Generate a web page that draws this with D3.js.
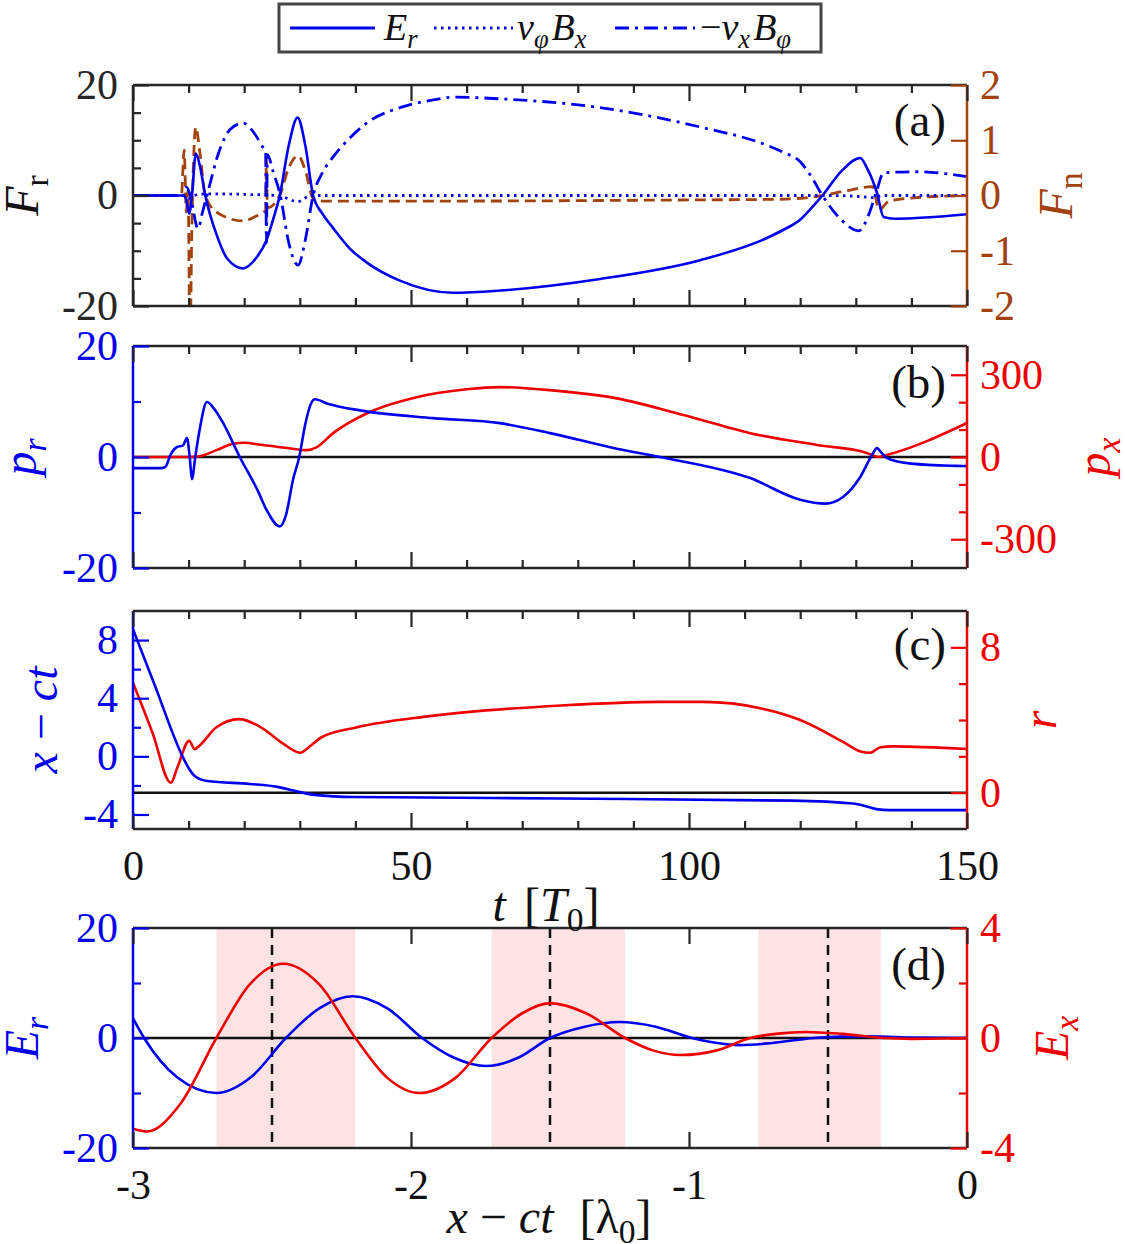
<!DOCTYPE html>
<html>
<head>
<meta charset="UTF-8">
<script src="https://d3js.org/d3.v7.min.js"></script>
</head>
<body style="margin:0">
<svg width="1125" height="1244"></svg>
<script>
// ---- panel (a): radial force components (left) and F_n (right)
const tEr = [0, 9, 9.5, 10.1, 10.6, 11.3, 12, 13, 15, 17, 19.8, 22, 24, 25.3, 26.4, 28, 29.6, 31, 32.4, 34, 36, 39, 42, 48, 57.6, 66, 84, 102, 114, 117, 120, 122, 124, 127.5, 130.8, 132, 133.8, 135, 137, 150];
const Er   = [0, 0, -0.5, -3.3, 0, 7.6, 5.5, 0, -7, -11.5, -13.2, -11.5, -8.1, -4, 0, 9, 14.1, 9, 0, -3.2, -5.9, -9.6, -12.1, -15.4, -17.6, -17.2, -15.1, -11.7, -7.7, -6.2, -4.4, -2.3, 0, 4.5, 6.8, 5, 0.5, -3.9, -4.2, -3.4];
const tVB = [0, 9, 10.2, 11, 13, 20, 26, 29.7, 32, 125, 131, 133, 135, 150];
const vphiBx = [0, 0, -0.5, 0, 0.3, 0.2, 0, -1.1, 0, 0, -0.2, -0.4, 0, 0];
const tVxB = [0, 9, 9.6, 10.3, 11.7, 12.5, 13.3, 15.5, 17.5, 19.8, 22, 23.7, 23.85, 24, 24.15, 25.3, 26.5, 28, 29.7, 31, 32.4, 34, 36, 39, 42, 48, 54, 57.6, 66, 84, 102, 114, 117, 120, 122, 124, 127.5, 130.5, 132.5, 133.8, 135, 141, 150];
const vxBphi = [0, 0, 1.5, 0, -6, -3, 0, 8, 12, 13.1, 11, 8.2, 8.0, -8.6, 7.4, 4, 0, -8.5, -12.6, -8, 0, 4, 7, 10.4, 13.1, 15.9, 17.3, 17.8, 17.5, 15.9, 12.4, 9.1, 7.8, 6.1, 3.4, 0, -4.5, -6.4, -3, 1, 4.1, 4.3, 3.4];
const tFn = [0, 8.7, 9.2, 9.6, 9.9, 10.25, 10.6, 11.3, 12, 13, 15, 19.8, 22, 23.85, 24, 24.15, 26.4, 28, 29.7, 31, 32.4, 34, 60, 100, 115, 120, 124, 128, 133, 134.2, 136, 142, 150];
const Fn  = [0, 0, 0.82, -0.3, 0.1, -2.6, -0.5, 1.24, 0.8, 0, -0.3, -0.46, -0.38, -0.27, 0.67, -0.22, 0, 0.5, 0.72, 0.45, -0.05, -0.1, -0.1, -0.08, -0.07, -0.05, 0, 0.08, 0.16, -0.26, -0.1, -0.03, 0];

// ---- panel (b): p_r (left) and p_x (right)
const tPr = [0, 5, 5.8, 6.8, 7.9, 9, 9.7, 10.2, 10.6, 11.2, 12, 13.3, 14.5, 16, 19.2, 22.5, 24, 26.4, 27.5, 28.8, 29.9, 31, 32, 32.7, 35, 40.8, 54, 66, 75, 87, 94.8, 111, 120, 124.5, 127.7, 130.8, 133, 133.8, 134.6, 135.6, 140, 148, 150];
const pr  = [-2, -2, -1.8, 0.5, 1.8, 2.1, 3.4, 0, -4, 0, 5, 9.9, 8.8, 6.5, 0, -6.2, -9.5, -12.5, -10.5, -4, 0, 6, 9.6, 10.4, 9.6, 8.4, 7, 6.1, 4.3, 1.5, 0, -3.8, -7.7, -8.4, -7.2, -3.6, 0.5, 1.6, 0.8, -0.2, -1.2, -1.6, -1.65];
const tPx = [0, 10, 12, 15, 18, 20, 23, 28, 31.3, 33, 36, 42.6, 51, 60, 66, 75, 87, 99, 111, 123, 132, 134, 136, 150];
const px  = [0, 0, 3, 25, 48, 52, 45, 32, 25, 35, 87, 164, 218, 247, 255, 244, 214, 153, 87, 44, 15, 0, 10, 124];

// ---- panel (c): x - ct (left) and r (right)
const tXct = [0, 4, 8.9, 10, 11.1, 13.4, 21, 26, 29.4, 32.6, 40, 77, 118.7, 129.5, 132, 134, 136, 150];
const xct  = [8.75, 4.8, 0, -0.8, -1.35, -1.7, -1.9, -2.1, -2.4, -2.65, -2.8, -2.9, -3.05, -3.25, -3.45, -3.65, -3.7, -3.7];
const tR = [0, 3.5, 6.8, 8, 10.1, 11.1, 12, 15, 19.1, 23, 27, 30, 32, 33.9, 40.3, 53, 77, 94.8, 102.6, 112.8, 120, 127.7, 131, 132.6, 134.4, 136.7, 150];
const rr = [6.05, 3.3, 0.55, 1.4, 2.85, 2.4, 2.6, 3.6, 4.05, 3.6, 2.7, 2.2, 2.6, 3.05, 3.6, 4.2, 4.8, 5.0, 5.0, 4.65, 4.0, 2.8, 2.25, 2.2, 2.5, 2.55, 2.4];

// ---- panel (d): fields along x - ct
const xiEr = [-3, -2.96, -2.84, -2.70, -2.575, -2.45, -2.33, -2.21, -2.085, -1.96, -1.845, -1.73, -1.615, -1.5, -1.375, -1.25, -1.12, -0.99, -0.9, -0.82, -0.7, -0.55, -0.45, -0.35, -0.2, 0];
const dEr  = [3.6, 0, -7.2, -10, -7.1, 0, 5.4, 7.6, 5.4, 0, -3.6, -5.1, -3.6, 0, 2.05, 2.9, 2.05, 0, -0.9, -1.3, -0.9, 0, 0.25, 0.3, 0.1, 0];
const xiEx = [-3, -2.95, -2.83, -2.70, -2.58, -2.46, -2.33, -2.2, -2.085, -1.97, -1.84, -1.71, -1.6, -1.5, -1.37, -1.23, -1.13, -1.03, -0.9, -0.78, -0.68, -0.58, -0.45, -0.3, -0.2, 0];
const dEx  = [-3.3, -3.4, -2.4, 0, 1.95, 2.7, 1.95, 0, -1.45, -2.0, -1.45, 0, 0.9, 1.27, 0.9, 0, -0.45, -0.62, -0.45, 0, 0.16, 0.22, 0.15, 0, -0.03, 0];
const bands = [[-2.7, -2.2], [-1.71, -1.23], [-0.75, -0.31]];
const peaks = [-2.5, -1.5, -0.5];

const BLUE = "#0000ee", RED = "#ee0000", BROWN = "#a2420e", INK = "#262626";
const FONT = '"Liberation Serif", "Times New Roman", Times';
const L = 133, R = 967;
const svg = d3.select("svg");
const zip = (a, b) => a.map((v, i) => [v, b[i]]);

// text with italic parts and subscripts
function mtext(sel, parts) {
  sel.style("font-family", FONT);
  let shift = 0;
  parts.forEach(p => {
    const ts = sel.append("tspan").text(p.t).style("font-family", FONT);
    if (p.i) ts.style("font-style", "italic");
    if (p.sub) {
      ts.attr("font-size", "70%").attr("dy", (0.3 - shift) + "em");
      shift = 0.3;
    } else if (shift) {
      ts.attr("dy", (-shift * 0.7) + "em");
      shift = 0;
    }
    if (p.dx) ts.attr("dx", p.dx);
  });
  return sel;
}

function panel(top, bottom, c) {
  const x = d3.scaleLinear().domain(c.xd).range([L, R]);
  const yl = d3.scaleLinear().domain(c.yl).range([bottom, top]);
  const yr = d3.scaleLinear().domain(c.yr).range([bottom, top]);
  const g = svg.append("g");
  const id = "clip" + top;
  g.append("clipPath").attr("id", id).append("rect")
    .attr("x", L).attr("y", top).attr("width", R - L).attr("height", bottom - top);
  const plot = g.append("g").attr("clip-path", `url(#${id})`);

  if (c.bands) {
    plot.selectAll(".band").data(c.bands).join("rect")
      .attr("x", d => x(d[0])).attr("width", d => x(d[1]) - x(d[0]))
      .attr("y", top).attr("height", bottom - top).attr("fill", "#fde3e3");
  }
  if (c.vlines) {
    plot.selectAll(".vl").data(c.vlines).join("line")
      .attr("x1", d => x(d)).attr("x2", d => x(d)).attr("y1", top).attr("y2", bottom)
      .attr("stroke", "#111").attr("stroke-width", 2.5).attr("stroke-dasharray", "10,7");
  }
  if (c.zero) {
    const yz = c.zero === "r" ? yr(0) : yl(0);
    plot.append("line").attr("x1", L).attr("x2", R).attr("y1", yz).attr("y2", yz)
      .attr("stroke", "#111").attr("stroke-width", 2.5);
  }
  c.series.forEach(s => {
    const y = s.axis === "r" ? yr : yl;
    plot.append("path").datum(zip(s.x, s.y))
      .attr("fill", "none").attr("stroke", s.color).attr("stroke-width", s.w || 2.6)
      .attr("stroke-dasharray", s.dash || null)
      .attr("d", d3.line().x(d => x(d[0])).y(d => y(d[1])).curve(d3.curveMonotoneX));
  });

  // box
  g.append("line").attr("x1", L).attr("x2", R).attr("y1", top).attr("y2", top).attr("stroke", INK).attr("stroke-width", 2.5);
  g.append("line").attr("x1", L).attr("x2", R).attr("y1", bottom).attr("y2", bottom).attr("stroke", INK).attr("stroke-width", 2.5);
  g.append("line").attr("x1", L).attr("x2", L).attr("y1", top).attr("y2", bottom).attr("stroke", c.lc).attr("stroke-width", 2.5);
  g.append("line").attr("x1", R).attr("x2", R).attr("y1", top).attr("y2", bottom).attr("stroke", c.rc).attr("stroke-width", 2.5);

  const fmt = d => String(d);
  const style = a => a.call(s => s.select(".domain").remove())
    .call(s => s.selectAll("line").attr("stroke-width", 2.2))
    .attr("font-family", null).attr("font-size", null)
    .call(s => s.selectAll("text").attr("font-size", 42).style("font-family", FONT));

  // x ticks top and bottom
  [["b", bottom], ["t", top]].forEach(([side, yy]) => {
    const mk = side === "b" ? d3.axisBottom : d3.axisTop;
    if (c.xminor) g.append("g").attr("transform", `translate(0,${yy})`).attr("color", INK)
      .call(mk(x).tickValues(c.xminor).tickSize(-8).tickFormat("")).call(style);
    const showLab = side === "b" && c.xlabels;
    g.append("g").attr("transform", `translate(0,${yy})`).attr("color", INK)
      .call(mk(x).tickValues(c.xmajor).tickSize(-16).tickPadding(21).tickFormat(showLab ? fmt : "")).call(style)
      .call(s => s.selectAll("text").attr("fill", "#111"));
  });

  // left axis
  g.append("g").attr("transform", `translate(${L},0)`).attr("color", c.lc)
    .call(d3.axisLeft(yl).tickValues(c.ylMinor).tickSize(-8).tickFormat("")).call(style);
  g.append("g").attr("transform", `translate(${L},0)`).attr("color", c.lc)
    .call(d3.axisLeft(yl).tickValues(c.ylMajor).tickSize(-16).tickPadding(15).tickFormat(fmt)).call(style);
  // right axis
  if (c.yrMinor) g.append("g").attr("transform", `translate(${R},0)`).attr("color", c.rc)
    .call(d3.axisRight(yr).tickValues(c.yrMinor).tickSize(-8).tickFormat("")).call(style);
  g.append("g").attr("transform", `translate(${R},0)`).attr("color", c.rc)
    .call(d3.axisRight(yr).tickValues(c.yrMajor).tickSize(-16).tickPadding(13).tickFormat(fmt)).call(style);

  // panel tag
  g.append("text").attr("x", 946).attr("y", c.tagY).attr("text-anchor", "end")
    .style("font-family", FONT).attr("font-size", 47).attr("fill", "#111").text(c.tag);

  // y titles
  const lt = g.append("text").attr("transform", `translate(${c.lx},${(top + bottom) / 2}) rotate(-90)`)
    .attr("text-anchor", "middle").attr("font-size", 48).attr("fill", c.lTitleColor || c.lc);
  mtext(lt, c.lTitle);
  const rt = g.append("text").attr("transform", `translate(${c.rx},${(top + bottom) / 2}) rotate(-90)`)
    .attr("text-anchor", "middle").attr("font-size", 48).attr("fill", c.rc);
  mtext(rt, c.rTitle);
  return x;
}

const tMinor = d3.range(10, 150, 10).filter(d => d % 50 !== 0);
const tMajor = [0, 50, 100, 150];

panel(85, 306, {
  xd: [0, 150], yl: [-20, 20], yr: [-2, 2], lc: INK, rc: BROWN, lTitleColor: "#111",
  xminor: tMinor, xmajor: tMajor,
  ylMinor: [-15, -10, -5, 5, 10, 15], ylMajor: [-20, 0, 20],
  yrMinor: [], yrMajor: [-2, -1, 0, 1, 2],
  series: [
    { x: tFn, y: Fn, axis: "r", color: BROWN, dash: "11,6", w: 2.8 },
    { x: tVB, y: vphiBx, color: BLUE, dash: "2.5,4.5", w: 2.8 },
    { x: tVxB, y: vxBphi, color: BLUE, dash: "14,6,3,6", w: 2.8 },
    { x: tEr, y: Er, color: BLUE }
  ],
  tag: "(a)", tagY: 136,
  lx: 38, lTitle: [{ t: "F", i: true }, { t: "r", sub: true }],
  rx: 1072, rTitle: [{ t: "F", i: true }, { t: "n", sub: true }]
});

panel(346, 568, {
  xd: [0, 150], yl: [-20, 20], yr: [-405, 405], lc: BLUE, rc: RED,
  xminor: tMinor, xmajor: tMajor,
  ylMinor: [-10, 10], ylMajor: [-20, 0, 20],
  yrMinor: [-200, -100, 100, 200], yrMajor: [-300, 0, 300],
  zero: "l",
  series: [
    { x: tPx, y: px, axis: "r", color: RED },
    { x: tPr, y: pr, color: BLUE }
  ],
  tag: "(b)", tagY: 398,
  lx: 36, lTitle: [{ t: "p", i: true }, { t: "r", sub: true, i: true }],
  rx: 1110, rTitle: [{ t: "p", i: true }, { t: "x", sub: true, i: true }]
});

panel(611, 829, {
  xd: [0, 150], yl: [-5, 10], yr: [-2, 10], lc: BLUE, rc: RED,
  xminor: tMinor, xmajor: tMajor, xlabels: true,
  ylMinor: [-2, 2, 6], ylMajor: [-4, 0, 4, 8],
  yrMinor: [2, 4, 6], yrMajor: [0, 8],
  zero: "r",
  series: [
    { x: tR, y: rr, axis: "r", color: RED },
    { x: tXct, y: xct, color: BLUE }
  ],
  tag: "(c)", tagY: 660,
  lx: 57, lTitle: [{ t: "x", i: true }, { t: " − " }, { t: "ct", i: true }],
  rx: 1056, rTitle: [{ t: "r", i: true }]
});

panel(928, 1148, {
  xd: [-3, 0], yl: [-20, 20], yr: [-4, 4], lc: BLUE, rc: RED,
  xmajor: [-3, -2, -1, 0], xlabels: true,
  ylMinor: [-10, 10], ylMajor: [-20, 0, 20],
  yrMinor: [-2, 2], yrMajor: [-4, 0, 4],
  zero: "l", bands: bands, vlines: peaks,
  series: [
    { x: xiEr, y: dEr, color: BLUE },
    { x: xiEx, y: dEx, axis: "r", color: RED }
  ],
  tag: "(d)", tagY: 980,
  lx: 38, lTitle: [{ t: "E", i: true }, { t: "r", sub: true, i: true }],
  rx: 1068, rTitle: [{ t: "E", i: true }, { t: "x", sub: true, i: true }]
});

// x titles
mtext(svg.append("text").attr("x", 546).attr("y", 921).attr("text-anchor", "middle")
  .attr("font-size", 48).attr("fill", "#111"),
  [{ t: "t", i: true }, { t: " [", dx: 6 }, { t: "T", i: true }, { t: "0", sub: true }, { t: "]" }]);
mtext(svg.append("text").attr("x", 549).attr("y", 1233).attr("text-anchor", "middle")
  .attr("font-size", 48).attr("fill", "#111"),
  [{ t: "x", i: true }, { t: " − " }, { t: "ct", i: true }, { t: "  [λ", dx: 14 }, { t: "0", sub: true }, { t: "]" }]);

// legend
const lg = svg.append("g");
lg.append("rect").attr("x", 279).attr("y", 4).attr("width", 542).attr("height", 48)
  .attr("fill", "#fff").attr("stroke", "#444").attr("stroke-width", 3);
const legendItems = [
  { x0: 290, x1: 375, tx: 384, dash: null, parts: [{ t: "E", i: true }, { t: "r", sub: true, i: true }] },
  { x0: 434, x1: 513, tx: 517, dash: "2.5,4.5", parts: [{ t: "v", i: true }, { t: "φ", sub: true, i: true }, { t: "B", i: true, dx: 3 }, { t: "x", sub: true, i: true }] },
  { x0: 615, x1: 695, tx: 700, dash: "14,6,3,6", parts: [{ t: "−" }, { t: "v", i: true }, { t: "x", sub: true, i: true }, { t: "B", i: true, dx: 3 }, { t: "φ", sub: true, i: true }] }
];
legendItems.forEach(d => {
  lg.append("line").attr("x1", d.x0).attr("x2", d.x1).attr("y1", 28).attr("y2", 28)
    .attr("stroke", BLUE).attr("stroke-width", 2.8).attr("stroke-dasharray", d.dash);
  mtext(lg.append("text").attr("x", d.tx).attr("y", 40).attr("font-size", 38).attr("fill", "#111"), d.parts);
});
</script>
</body>
</html>
